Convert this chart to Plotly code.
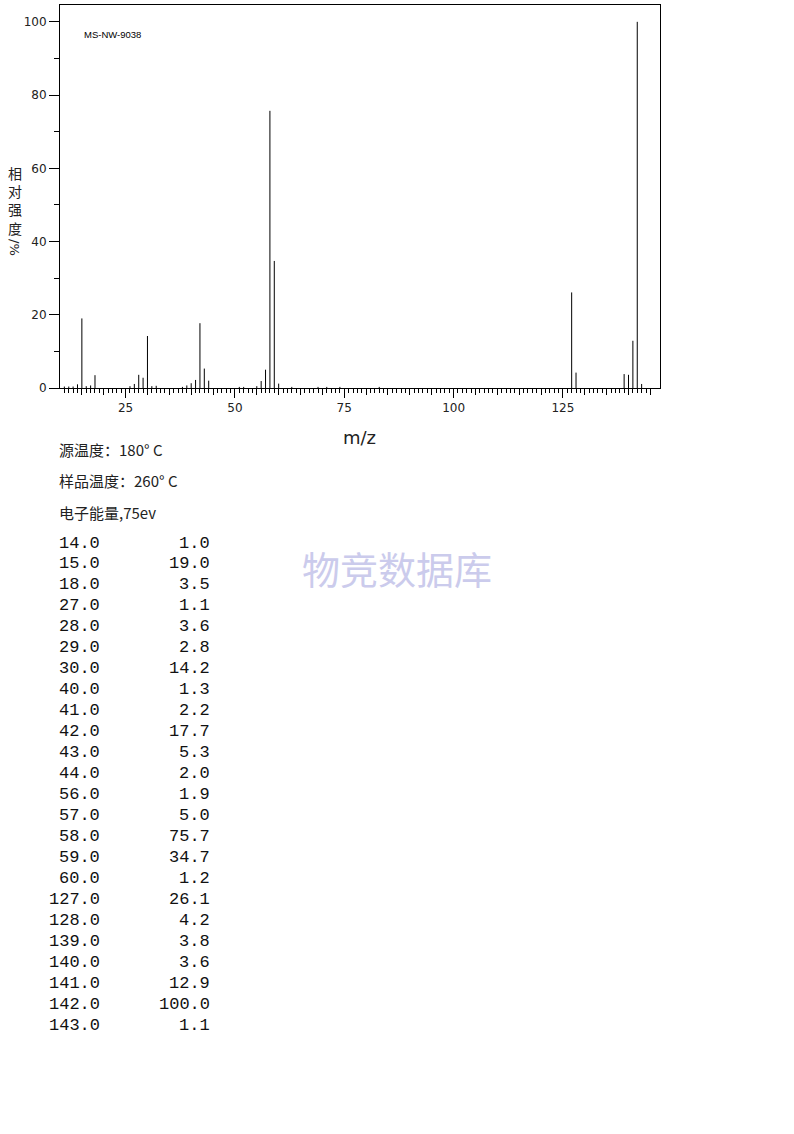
import plotly.graph_objects as go

# ---- data ----
mz_table = [14, 15, 18, 27, 28, 29, 30, 40, 41, 42, 43, 44, 56, 57, 58, 59, 60,
            127, 128, 139, 140, 141, 142, 143]
int_table = [1.0, 19.0, 3.5, 1.1, 3.6, 2.8, 14.2, 1.3, 2.2, 17.7, 5.3, 2.0, 1.9,
             5.0, 75.7, 34.7, 1.2, 26.1, 4.2, 3.8, 3.6, 12.9, 100.0, 1.1]
# small peaks visible on the plot but below the 1 % table threshold (estimated)
mz_small = [11, 12, 13, 16, 17, 26, 31, 32, 38, 39, 51, 52, 55, 63, 69, 71, 74, 83]
int_small = [0.4, 0.4, 0.4, 0.5, 0.7, 0.5, 0.5, 0.6, 0.3, 0.7, 0.3, 0.3, 0.5,
             0.3, 0.3, 0.3, 0.3, 0.3]

x_major_ticks = [25, 50, 75, 100, 125]
x_label = "m/z"
y_label_cjk = ["相", "对", "强", "度"]
y_label_tail = "/%"
sample_id = "MS-NW-9038"
info_lines = ["源温度：180° C", "样品温度：260° C", "电子能量,75ev"]
watermark = "物竞数据库"

# ---- geometry helpers (pixel -> paper) ----
L, R, T, B = 60, 134, 5, 746
W, H = 794, 1134
PW, PH = W - L - R, H - T - B


def px_x(px):
    return (px - L) / PW


def px_y(py):
    return (H - B - py) / PH


# ---- peaks ----
all_mz = mz_table + mz_small
all_int = int_table + int_small
xs, ys = [], []
for m, v in zip(all_mz, all_int):
    xs += [m, m, None]
    ys += [0, v, None]

XR = [10.0, 147.2]
YR = [0, 104.6]

fig = go.Figure()
fig.add_trace(go.Scatter(x=xs, y=ys, mode="lines",
                         line=dict(color="black", width=1),
                         hoverinfo="skip", showlegend=False))
# invisible trace for the overlaid 5-unit tick axis
fig.add_trace(go.Scatter(x=[XR[0]], y=[0], xaxis="x2", mode="markers",
                         marker=dict(opacity=0), showlegend=False,
                         hoverinfo="skip"))

minor_vals = [v for v in range(11, 146) if v % 5 != 0]
mid_vals = [v for v in range(15, 146, 5) if v % 25 != 0]

tickfont = dict(family="DejaVu Sans", size=12, color="#222")

fig.update_layout(
    width=W, height=H,
    margin=dict(l=L, r=R, t=T, b=B, autoexpand=False),
    plot_bgcolor="white", paper_bgcolor="white",
    showlegend=False,
    xaxis=dict(range=XR, showline=True, linecolor="black", linewidth=1,
               mirror=True, ticks="outside", tickvals=x_major_ticks,
               ticklen=9, tickcolor="black", tickwidth=1, tickfont=tickfont,
               showgrid=False, zeroline=False,
               minor=dict(tickvals=minor_vals, ticks="outside", ticklen=4,
                          tickcolor="black", tickwidth=1, showgrid=False)),
    xaxis2=dict(range=XR, overlaying="x", anchor="y", side="bottom",
                ticks="outside", tickvals=mid_vals, ticklen=6,
                tickcolor="black", tickwidth=1, showticklabels=False,
                showline=False, showgrid=False, zeroline=False),
    yaxis=dict(range=YR, showline=True, linecolor="black", linewidth=1,
               mirror=True, ticks="outside", tick0=0, dtick=20, ticklen=10,
               tickcolor="black", tickwidth=1, tickfont=tickfont,
               showgrid=False, zeroline=False,
               minor=dict(tick0=0, dtick=10, ticks="outside", ticklen=5,
                          tickcolor="black", tickwidth=1, showgrid=False)),
)

ann = []
# sample id
ann.append(dict(x=px_x(82), y=px_y(35), xref="paper", yref="paper",
                text=sample_id, showarrow=False, xanchor="left",
                yanchor="middle",
                font=dict(family="Liberation Sans", size=9.5, color="black")))
# x title
ann.append(dict(x=px_x(359), y=px_y(437), xref="paper", yref="paper",
                text=x_label, showarrow=False, xanchor="center",
                yanchor="middle",
                font=dict(family="DejaVu Sans", size=18, color="#222")))
# y title (stacked CJK + rotated tail)
ann.append(dict(x=px_x(15), y=px_y(200), xref="paper", yref="paper",
                text="<br>".join(y_label_cjk), showarrow=False,
                xanchor="center", yanchor="middle",
                font=dict(family="Noto Sans CJK SC", size=14, color="#222")))
ann.append(dict(x=px_x(15), y=px_y(247), xref="paper", yref="paper",
                text=y_label_tail, showarrow=False, textangle=90,
                xanchor="center", yanchor="middle",
                font=dict(family="DejaVu Sans", size=13, color="#222")))
# info lines
for i, line in enumerate(info_lines):
    ann.append(dict(x=px_x(57), y=px_y(449 + 31.5 * i), xref="paper",
                    yref="paper", text=line, showarrow=False,
                    xanchor="left", yanchor="middle",
                    font=dict(family="Noto Sans CJK SC", size=15,
                              color="#222")))
# table
for i, (m, v) in enumerate(zip(mz_table, int_table)):
    yy = px_y(543 + 20.96 * i)
    ann.append(dict(x=px_x(101.5), y=yy, xref="paper", yref="paper",
                    text=f"{m:.1f}", showarrow=False, xanchor="right",
                    yanchor="middle",
                    font=dict(family="Liberation Mono", size=17,
                              color="#111")))
    ann.append(dict(x=px_x(211.5), y=yy, xref="paper", yref="paper",
                    text=f"{v:.1f}", showarrow=False, xanchor="right",
                    yanchor="middle",
                    font=dict(family="Liberation Mono", size=17,
                              color="#111")))
# watermark
ann.append(dict(x=px_x(397), y=px_y(567), xref="paper", yref="paper",
                text=watermark, showarrow=False, xanchor="center",
                yanchor="middle",
                font=dict(family="Noto Sans CJK SC", size=38,
                          color="#cbcbec")))

fig.update_layout(annotations=ann)
fig.write_html("out.html",
               config={"displayModeBar": False},
               post_script="document.body.style.margin='0';")
